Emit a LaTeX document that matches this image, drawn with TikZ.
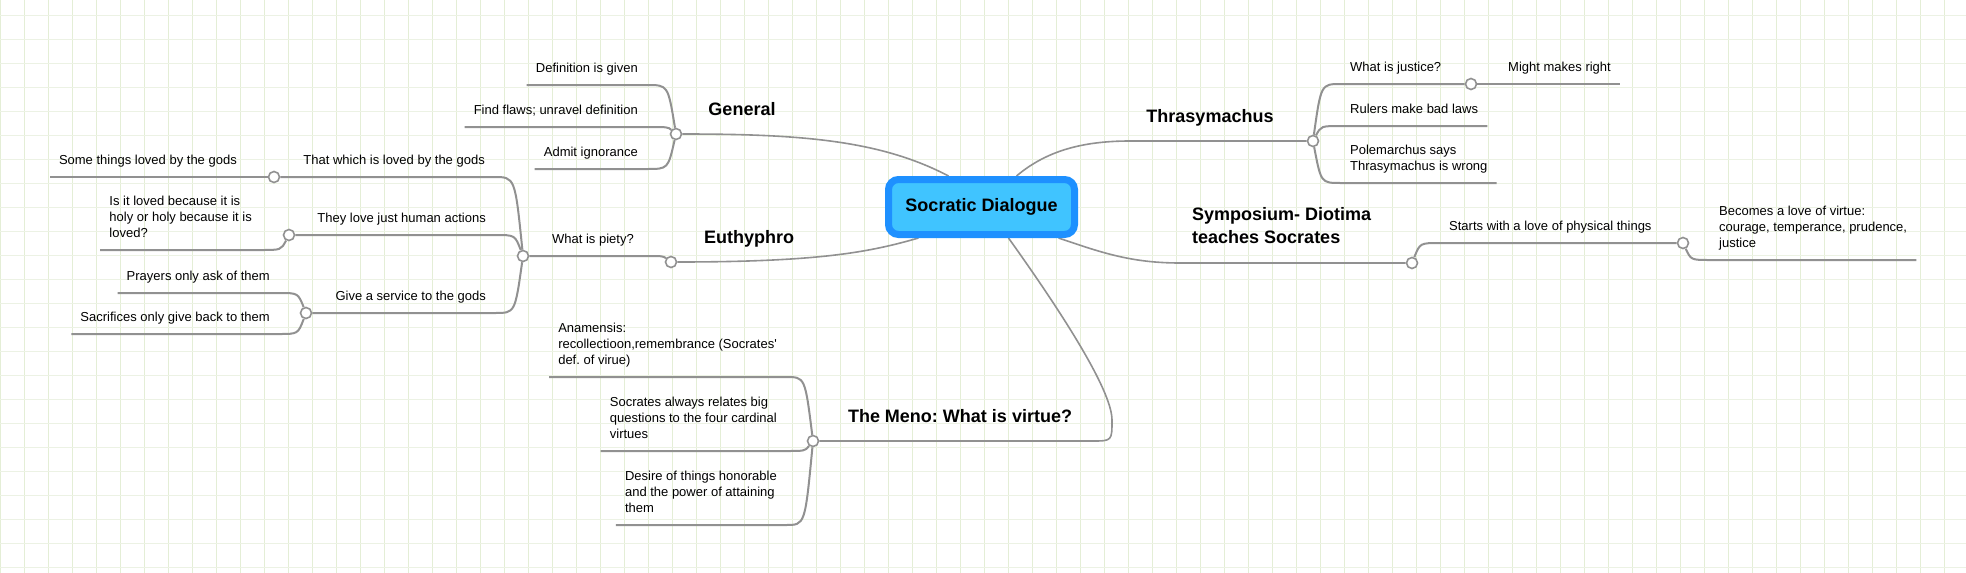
\documentclass[tikz,border=0pt]{standalone}
\usepackage{fontspec}
\setmainfont{Liberation Sans}
\usepackage{tikz}
\usetikzlibrary{calc}
\usepackage{xcolor}
\definecolor{lineGray}{RGB}{145,145,145}
\definecolor{rootBlue}{RGB}{30,144,255}
\definecolor{rootFill}{RGB}{64,196,255}
\definecolor{gridV}{RGB}{228,238,214}
\definecolor{gridH}{RGB}{236,242,228}
\pgfdeclarelayer{grid}
\pgfdeclarelayer{links}
\pgfsetlayers{grid,links,main}
\frenchspacing
\tikzset{
    % Lines
    trunk/.style={draw=lineGray, line width=1.6pt},
    twig/.style={draw=lineGray, line width=2pt},
    lbranch/.style={to path={.. controls ($(\tikztostart |- \tikztotarget)+(-8,0)$) .. (\tikztotarget) \tikztonodes}},
    rbranch/.style={to path={.. controls ($(\tikztostart |- \tikztotarget)+(8,0)$) .. (\tikztotarget) \tikztonodes}},
    % Shapes
    rootbox/.style={rectangle, rounded corners=10pt, draw=rootBlue, fill=rootFill, line width=7pt,
                    minimum width=186pt, minimum height=55pt, font=\fontsize{18}{22}\selectfont\bfseries},
    knob/.style={circle, draw=lineGray, fill=white, line width=1.6pt, minimum size=11pt, inner sep=0pt},
    topic/.style={font=\fontsize{18}{23}\selectfont\bfseries, inner sep=0pt, align=left},
    leaf/.style={font=\fontsize{13}{16}\selectfont, align=left, inner xsep=9pt, inner ysep=7.7pt,
                 execute at end node=\strut},
    leafL/.style={leaf, anchor=south east},
    leafR/.style={leaf, anchor=south west}
}

\begin{document}
\begin{tikzpicture}[x=1pt, y=-1pt]
\useasboundingbox (0,0) rectangle (1966,573);

% Grid paper
\begin{pgfonlayer}{grid}
    \fill[white] (0,0) rectangle (1966,573);
    \foreach \gx in {0,24,...,1944} \draw[gridV, line width=1pt] (\gx+0.5,0) -- (\gx+0.5,573);
    \foreach \gy in {15,39,...,567} \draw[gridH, line width=1pt] (0,\gy) -- (1966,\gy);
\end{pgfonlayer}

% Root and topics
\node[rootbox] (root) at (981.5,207) {Socratic Dialogue};
\node[topic, anchor=base] (general) at (742,115) {General};
\node[topic, anchor=base] (euthyphro) at (749,243) {Euthyphro};
\node[topic, anchor=base] (thrasy) at (1210,122) {Thrasymachus};
\node[topic, anchor=north west] (symp) at (1192,207) {Symposium- Diotima\\teaches Socrates};
\node[topic, anchor=base] (meno) at (960,422) {The Meno: What is virtue?};

% Knobs
\node[knob] (genc) at (676,134) {};
\node[knob] (euc) at (671,262) {};
\node[knob] (pietyc) at (523,256) {};
\node[knob] (lovedc) at (274,177) {};
\node[knob] (humanc) at (289,235) {};
\node[knob] (servc) at (306,313) {};
\node[knob] (menoc) at (813,441) {};
\node[knob] (thrc) at (1313,141) {};
\node[knob] (justc) at (1471,84) {};
\node[knob] (symc) at (1412,263) {};
\node[knob] (physc) at (1683,243) {};

% Left leaves
\node[leafL] (gdef) at (647,85) {Definition is given};
\node[leafL] (gflaw) at (647,127) {Find flaws; unravel definition};
\node[leafL] (gign) at (647,169) {Admit ignorance};
\node[leafL] (piety) at (643,256) {What is piety?};
\node[leafL] (loved) at (494,177) {That which is loved by the gods};
\node[leafL] (some) at (246,177) {Some things loved by the gods};
\node[leafL] (human) at (495,235) {They love just human actions};
\node[leafL] (isit) at (261,250) {Is it loved because it is\\holy or holy because it is\\loved?};
\node[leafL] (serv) at (495,313) {Give a service to the gods};
\node[leafL] (prayer) at (279,293) {Prayers only ask of them};
\node[leafL] (sacri) at (279,334) {Sacrifices only give back to them};
\node[leafL] (anam) at (786,377) {Anamensis:\\recollectioon,remembrance (Socrates\textquotesingle\\def. of virue)};
\node[leafL] (socr) at (786,451) {Socrates always relates big\\questions to the four cardinal\\virtues};
\node[leafL] (desire) at (786,525) {Desire of things honorable\\and the power of attaining\\them};

% Right leaves
\node[leafR] (just) at (1341,84) {What is justice?};
\node[leaf, anchor=south east] (might) at (1620,84) {Might makes right};
\node[leafR] (rulers) at (1341,126) {Rulers make bad laws};
\node[leafR] (polem) at (1341,183) {Polemarchus says\\Thrasymachus is wrong};
\node[leafR] (starts) at (1440,243) {Starts with a love of physical things};
\node[leafR] (becomes) at (1710,260) {Becomes a love of virtue:\\courage, temperance, prudence,\\justice};

% Connectors
\begin{pgfonlayer}{links}
    \draw[trunk] ([xshift=-33pt]root.north) .. controls (880,140) and (800,134) .. (genc);
    \draw[trunk] ([xshift=-63pt]root.south) .. controls (870,252) and (820,262) .. (euc);
    \draw[trunk] ([xshift=35pt]root.north) .. controls (1045,152) and (1080,141) .. (1130,141) -- (thrc);
    \draw[trunk] ([xshift=77pt]root.south) .. controls (1100,252) and (1130,263) .. (1180,263) -- (symc);
    \draw[trunk] ([xshift=27pt]root.south) .. controls (1060,310) and (1112,390) .. (1112,420)
                 .. controls (1112,441) .. (1092,441) -- (menoc);

    \draw[twig] (genc) to[lbranch] (gdef.south east) -- (gdef.south west);
    \draw[twig] (genc) to[lbranch] (gflaw.south east) -- (gflaw.south west);
    \draw[twig] (genc) to[lbranch] (gign.south east) -- (gign.south west);

    \draw[twig] (euc) to[lbranch] (piety.south east) -- (pietyc);
    \draw[twig] (pietyc) to[lbranch] (loved.south east) -- (lovedc);
    \draw[twig] (lovedc) -- (some.south west);
    \draw[twig] (pietyc) to[lbranch] (human.south east) -- (humanc);
    \draw[twig] (humanc) to[lbranch] (isit.south east) -- (isit.south west);
    \draw[twig] (pietyc) to[lbranch] (serv.south east) -- (servc);
    \draw[twig] (servc) to[lbranch] (prayer.south east) -- (prayer.south west);
    \draw[twig] (servc) to[lbranch] (sacri.south east) -- (sacri.south west);

    \draw[twig] (menoc) to[lbranch] (anam.south east) -- (anam.south west);
    \draw[twig] (menoc) to[lbranch] (socr.south east) -- (socr.south west);
    \draw[twig] (menoc) to[lbranch] (desire.south east) -- (desire.south west);

    \draw[twig] (thrc) to[rbranch] (just.south west) -- (justc);
    \draw[twig] (justc) -- (might.south east);
    \draw[twig] (thrc) to[rbranch] (rulers.south west) -- (rulers.south east);
    \draw[twig] (thrc) to[rbranch] (polem.south west) -- (polem.south east);

    \draw[twig] (symc) to[rbranch] (starts.south west) -- (physc);
    \draw[twig] (physc) to[rbranch] (becomes.south west) -- (becomes.south east);
\end{pgfonlayer}

\end{tikzpicture}
\end{document}
